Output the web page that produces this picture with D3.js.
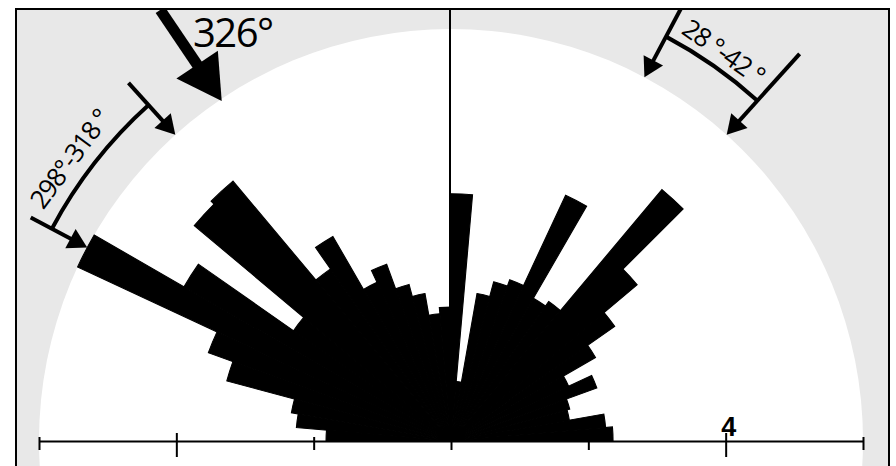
<!DOCTYPE html>
<html>
<head>
<meta charset="utf-8">
<script src="https://cdn.jsdelivr.net/npm/d3@7"></script>
<style>
  html, body { margin: 0; padding: 0; background: #fff; }
  svg { display: block; }
</style>
</head>
<body>
<svg id="chart" width="896" height="466"></svg>
<script>
// Rose diagram bins: start azimuth (deg clockwise from north), 5 deg wide
const binStart = [270, 275, 280, 285, 290, 295, 300, 305, 310, 315, 320, 325, 330, 335, 340, 345, 350, 355,
                  0, 5, 10, 15, 20, 25, 30, 35, 40, 45, 50, 55, 60, 65, 70, 75, 80, 85];
const binValue = [1.82, 2.26, 2.36, 3.38, 3.76, 6.0, 4.49, 2.8, 4.88, 4.94, 3.06, 3.44, 2.55, 2.74, 2.36, 2.18, 1.86, 1.95,
                  3.6, 0.87, 2.18, 2.4, 2.5, 3.95, 2.4, 2.48, 4.78, 3.54, 2.91, 2.43, 1.89, 2.26, 1.79, 1.75, 2.26, 2.36];
const binWidth = 5;

// axis
const axisTicks = [-6, -4, -2, 0, 2, 4, 6];
const labelValues = [4];
const labelTexts = ['4'];

// annotations
const mainDirection = 326;
const mainLabel = '326°';
const rangeFrom = [298, 28];
const rangeTo = [318, 42];
const rangeLabels = ['298°-318 °', '28 °-42 °'];

const svg = d3.select('#chart');
const cx = 451, cy = 441, R = 412;
const frame = { x: 16, y: 9, w: 873, h: 480 };

const r = d3.scaleLinear().domain([0, 6]).range([0, R]);
const x = d3.scaleLinear().domain([-6, 6]).range([cx - R, cx + R]);
const rad = d => d * Math.PI / 180;
const polar = (az, rr) => [cx + rr * Math.sin(rad(az)), cy - rr * Math.cos(rad(az))];

svg.append('defs').append('clipPath').attr('id', 'frame-clip')
    .append('rect')
    .attr('x', frame.x).attr('y', frame.y)
    .attr('width', frame.w).attr('height', frame.h);

const g = svg.append('g').attr('clip-path', 'url(#frame-clip)');

// Background
g.append('rect')
    .attr('x', frame.x).attr('y', frame.y)
    .attr('width', frame.w).attr('height', frame.h)
    .attr('fill', '#e8e8e8');

g.append('circle')
    .attr('cx', cx).attr('cy', cy).attr('r', R)
    .attr('fill', '#fff');

// North line
g.append('line')
    .attr('x1', cx - 1).attr('x2', cx - 1)
    .attr('y1', frame.y).attr('y2', cy)
    .attr('stroke', '#000').attr('stroke-width', 2);

// Wedges
const arc = d3.arc().innerRadius(0);
g.append('g')
    .attr('transform', `translate(${cx},${cy})`)
    .selectAll('path')
    .data(binStart)
    .join('path')
    .attr('d', (d, i) => arc({
        outerRadius: r(binValue[i]),
        startAngle: rad(d),
        endAngle: rad(d + binWidth)
    }))
    .attr('fill', '#000')
    .attr('stroke', '#000')
    .attr('stroke-width', 1.1)
    .attr('stroke-linejoin', 'miter');

// Axis
const axis = d3.axisBottom(x).tickValues(axisTicks).tickFormat('').tickSizeOuter(0);
const ax = g.append('g').attr('transform', `translate(0,${cy})`).call(axis);
ax.select('.domain').attr('stroke', '#000').attr('stroke-width', 2.2);
ax.selectAll('.tick line')
    .attr('stroke', '#000')
    .attr('stroke-width', 2)
    .attr('y1', d => Math.abs(d) === 4 ? -8 : -4)
    .attr('y2', d => Math.abs(d) === 4 ? 16 : 9);

g.selectAll('.tick-label')
    .data(labelValues)
    .join('text')
    .attr('class', 'tick-label')
    .attr('x', d => x(d) + 3)
    .attr('y', cy - 5)
    .attr('text-anchor', 'middle')
    .attr('font-family', '"Liberation Sans Narrow", "Liberation Sans", sans-serif')
    .attr('font-weight', 'bold')
    .attr('font-size', 27)
    .attr('fill', '#000')
    .text((d, i) => labelTexts[i]);

// Main direction arrow
const ann = g.append('g');
function arrowHead(az, tipR, len, half) {
    const tip = polar(az, tipR);
    const b = polar(az, tipR + len);
    const px = Math.cos(rad(az)) * half, py = Math.sin(rad(az)) * half;
    return `M${tip[0]},${tip[1]}L${b[0] + px},${b[1] + py}L${b[0] - px},${b[1] - py}Z`;
}
{
    const a = polar(mainDirection, 520), b = polar(mainDirection, 450);
    ann.append('line')
        .attr('x1', a[0]).attr('y1', a[1]).attr('x2', b[0]).attr('y2', b[1])
        .attr('stroke', '#000').attr('stroke-width', 11);
    ann.append('path').attr('d', arrowHead(mainDirection, 410, 44, 25)).attr('fill', '#000');
    ann.append('text')
        .attr('x', 193).attr('y', 47)
        .attr('font-family', '"Open Sans", sans-serif')
        .attr('font-size', 40)
        .attr('letter-spacing', -1.5)
        .attr('fill', '#000')
        .text(mainLabel);
}

// Range annotations
const arcR = [452, 458];
const tailR = [[476, 482], [540, 521]];
const textR = [465, 466];
rangeFrom.forEach((from, i) => {
    const to = rangeTo[i];
    const rr = arcR[i];
    ann.append('path')
        .attr('d', d3.arc()({ innerRadius: rr, outerRadius: rr, startAngle: rad(from), endAngle: rad(to) }))
        .attr('transform', `translate(${cx},${cy})`)
        .attr('fill', 'none')
        .attr('stroke', '#000')
        .attr('stroke-width', 4);
    [from, to].forEach((az, k) => {
        const a = polar(az, tailR[i][k]), b = polar(az, 428);
        ann.append('line')
            .attr('x1', a[0]).attr('y1', a[1]).attr('x2', b[0]).attr('y2', b[1])
            .attr('stroke', '#000').attr('stroke-width', 4);
        ann.append('path').attr('d', arrowHead(az, 412, 19, 11)).attr('fill', '#000');
    });
    const mid = (from + to) / 2 + (i === 0 ? -1.5 : 0);
    const p = polar(mid, textR[i]);
    const rot = mid > 180 ? mid - 360 : mid;
    ann.append('text')
        .attr('transform', `translate(${p[0]},${p[1]}) rotate(${rot})`)
        .attr('text-anchor', 'middle')
        .attr('font-family', '"Open Sans", sans-serif')
        .attr('font-size', 26)
        .attr('letter-spacing', -1.2)
        .attr('fill', '#000')
        .text(rangeLabels[i]);
});

// Frame border
svg.append('rect')
    .attr('x', frame.x).attr('y', frame.y)
    .attr('width', frame.w).attr('height', frame.h)
    .attr('fill', 'none')
    .attr('stroke', '#000')
    .attr('stroke-width', 2);
</script>
</body>
</html>
